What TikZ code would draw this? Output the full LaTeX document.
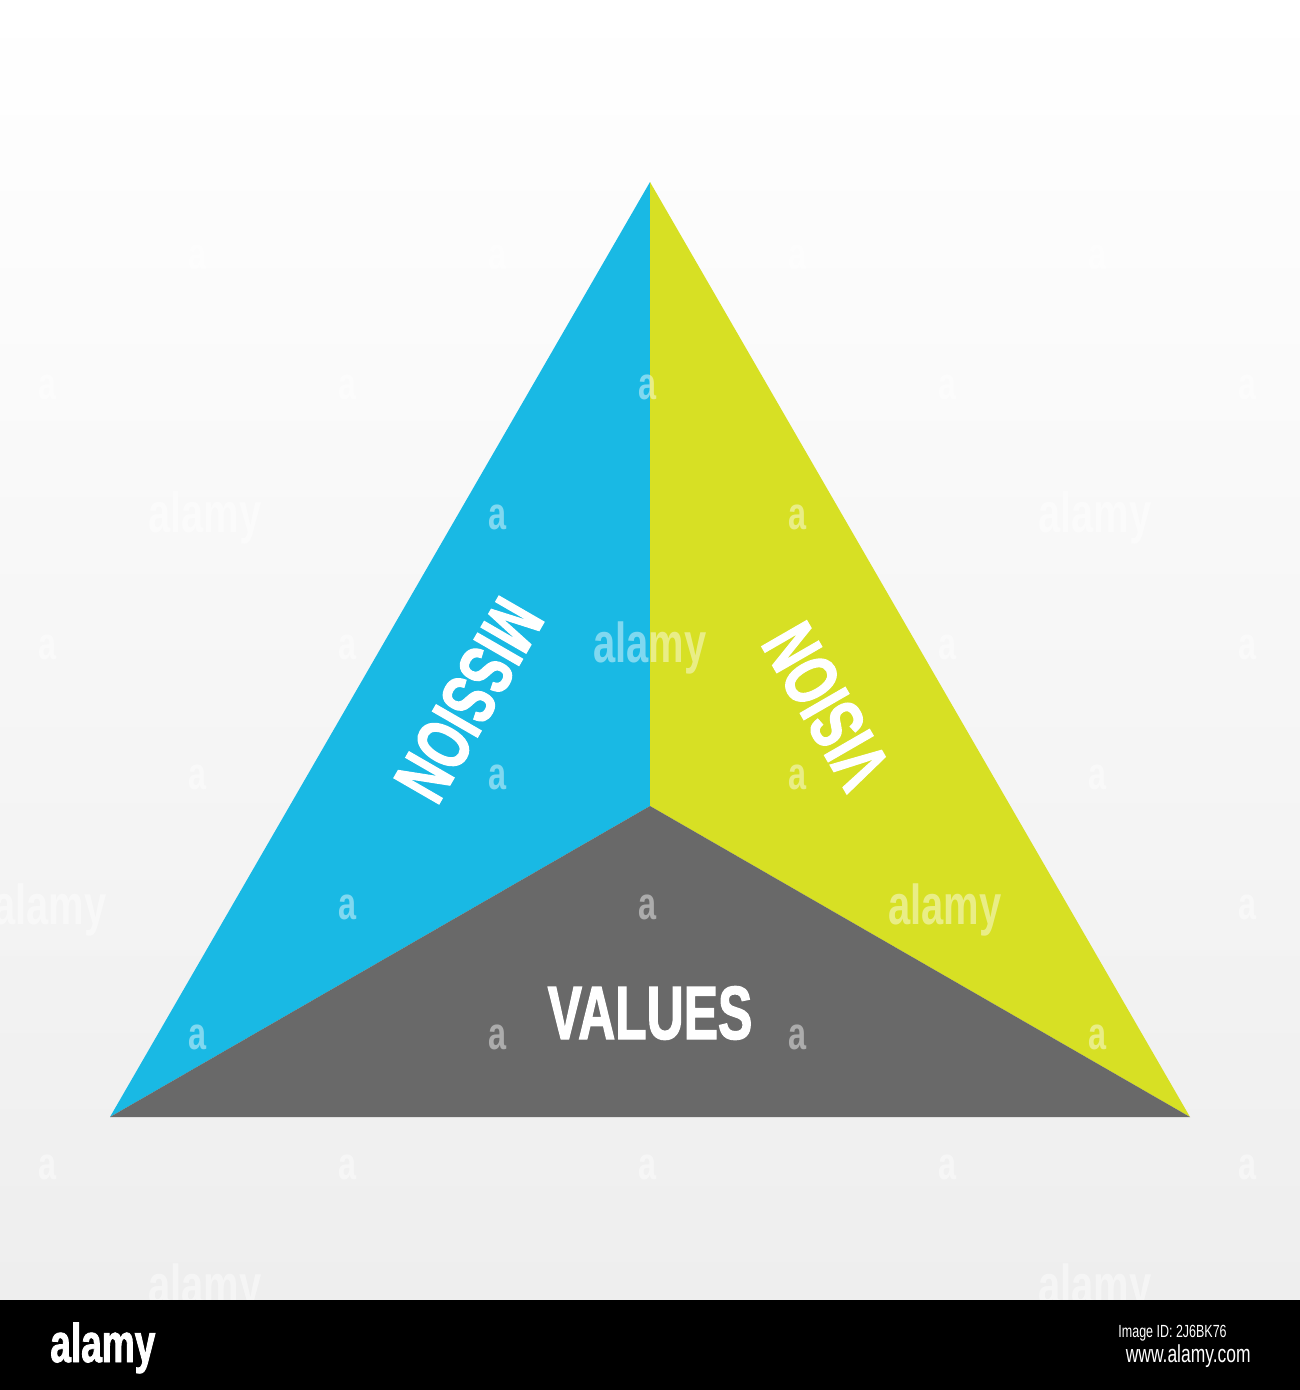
\documentclass[tikz,border=0pt]{standalone}
\usepackage{fontspec}
\newfontfamily\cond[FakeStretch=0.71]{Liberation Sans}
\newfontfamily\heavy[FakeStretch=0.68, FakeBold=1.6]{Liberation Sans Bold}
\definecolor{mblue}{RGB}{25,185,228}
\definecolor{mgreen}{RGB}{215,224,36}
\definecolor{mgray}{RGB}{105,105,105}
\definecolor{bgbot}{RGB}{238,238,238}
\tikzset{
  label/.style={text=white, font=\heavy\fontsize{43}{43}\selectfont, inner sep=0pt},
  wmark/.style={text=white, opacity=0.45, font=\cond\bfseries\fontsize{32}{32}\selectfont, inner sep=0pt},
  wa/.style={text=white, opacity=0.45, font=\cond\bfseries\fontsize{26}{26}\selectfont, inner sep=0pt},
}
\begin{document}
\begin{tikzpicture}[x=0.02cm, y=-0.02cm]
\useasboundingbox (0,0) rectangle (1300,1390);
% background
\shade[top color=white, bottom color=bgbot] (0,0) rectangle (1300,1300);
% triangle
\coordinate (apex) at (650,182);
\coordinate (bl) at (110,1117);
\coordinate (br) at (1190,1117);
\coordinate (c) at (650,806);
\fill[mblue] (apex) -- (c) -- (bl) -- cycle;
\fill[mgreen] (apex) -- (br) -- (c) -- cycle;
\fill[mgray] (bl) -- (c) -- (br) -- cycle;
% watermarks
\foreach \x/\y [count=\i] in {205/518, 1095/518, 650/648, 50/910, 945/910, 60/130, 945/130, 205/1290, 1095/1290}
  \node[wmark] (wm\i) at (\x,\y) {alamy};
\foreach \x/\y [count=\i] in {198/257, 498/257, 798/257, 1098/257,
  48/387, 348/387, 648/387, 948/387, 1248/387,
  498/517, 798/517,
  48/647, 348/647, 948/647, 1248/647,
  198/777, 498/777, 798/777, 1098/777,
  348/907, 648/907, 1248/907,
  198/1037, 498/1037, 798/1037, 1098/1037,
  48/1167, 348/1167, 648/1167, 948/1167, 1248/1167}
  \node[wa] (wa\i) at (\x,\y) {a};
% labels
\node[label, rotate=240] (mission) at (469,700) {MISSION};
\node[label, rotate=120] (vision) at (826,706) {VISION};
\node[label] (values) at (650,1013) {VALUES};
% bottom bar
\fill[black] (0,1300) rectangle (1300,1390);
\node[text=white, font=\heavy\fontsize{31}{31}\selectfont, inner sep=0pt, anchor=base west] (logo) at (50,1362) {alamy};
\node[text=white, font=\cond\fontsize{10}{10}\selectfont, inner sep=0pt, anchor=base east] (imgid) at (1227,1337) {Image ID: 2J6BK76};
\node[text=white, font=\cond\fontsize{14}{14}\selectfont, inner sep=0pt, anchor=base east] (www) at (1251,1362) {www.alamy.com};
\end{tikzpicture}
\end{document}
